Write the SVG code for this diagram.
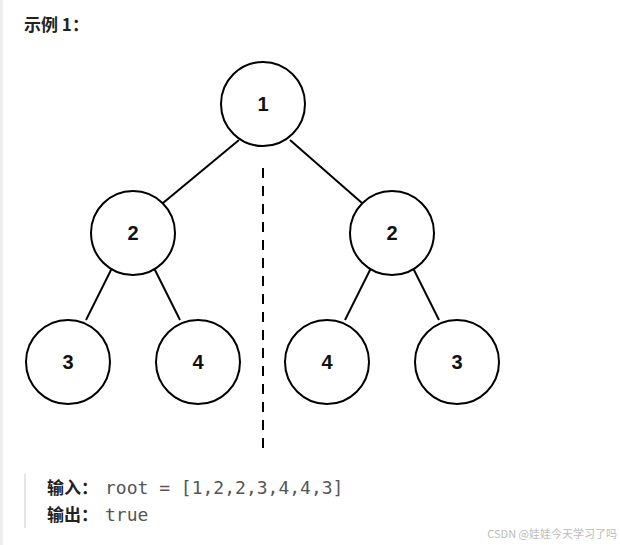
<svg xmlns="http://www.w3.org/2000/svg" width="620" height="545" viewBox="0 0 620 545">
<style>
.n circle{fill:#fff;stroke:#000;stroke-width:2}
.n text{font-family:"Liberation Sans",Arial,sans-serif;font-weight:bold;font-size:20px;text-anchor:middle;fill:#111}
.e line{stroke:#000;stroke-width:2}
.cn{font-family:"Noto Sans CJK SC",sans-serif;font-weight:bold;font-size:17px;fill:#222}
.mono{font-family:"DejaVu Sans Mono",monospace;font-size:18px;fill:#555}
</style>
<rect width="620" height="545" fill="#fff"/>
<rect x="0" y="0" width="3" height="545" fill="#eee"/>
<text x="24" y="31" class="cn">示例 1：</text>
<g class="e">
<line x1="239" y1="140" x2="163" y2="203"/>
<line x1="290" y1="140" x2="362" y2="203"/>
<line x1="112" y1="268" x2="86" y2="320"/>
<line x1="154" y1="268" x2="180" y2="320"/>
<line x1="371" y1="268" x2="345" y2="320"/>
<line x1="413" y1="268" x2="439" y2="320"/>
<line x1="263" y1="168" x2="263" y2="452" stroke-dasharray="10,8" stroke-width="3"/>
</g>
<g id="n1" class="n"><circle cx="263" cy="104" r="42"/><text x="263" y="111">1</text></g>
<g id="n2a" class="n"><circle cx="133" cy="233" r="42"/><text x="133" y="240">2</text></g>
<g id="n2b" class="n"><circle cx="392" cy="233" r="42"/><text x="392" y="240">2</text></g>
<g id="n3a" class="n"><circle cx="68" cy="362" r="42"/><text x="68" y="369">3</text></g>
<g id="n4a" class="n"><circle cx="198" cy="362" r="42"/><text x="198" y="369">4</text></g>
<g id="n4b" class="n"><circle cx="327" cy="362" r="42"/><text x="327" y="369">4</text></g>
<g id="n3b" class="n"><circle cx="457" cy="362" r="42"/><text x="457" y="369">3</text></g>
<rect x="24" y="474" width="2" height="54" fill="#e5e5e5"/>
<text x="47" y="494" class="cn">输入：</text>
<text x="105" y="494" class="mono">root = [1,2,2,3,4,4,3]</text>
<text x="47" y="521" class="cn">输出：</text>
<text x="105" y="521" class="mono">true</text>
<text x="617" y="538" text-anchor="end" font-family="'Noto Sans CJK SC',sans-serif" font-size="11" fill="#bbb">CSDN @娃娃今天学习了吗</text>
</svg>
